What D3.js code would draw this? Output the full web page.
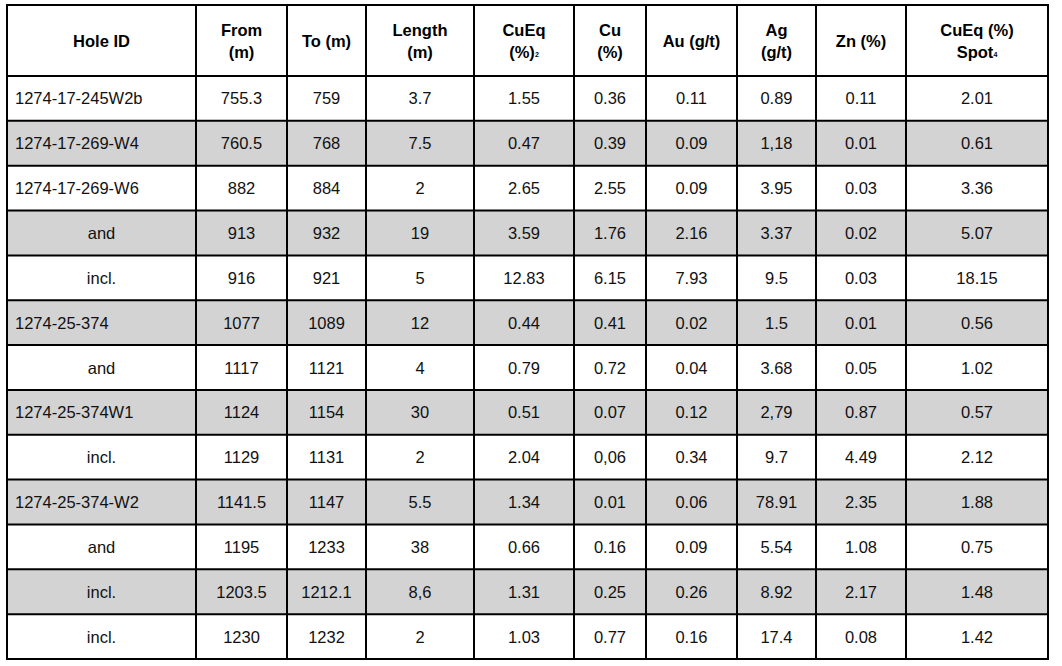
<!DOCTYPE html>
<html>
<head>
<meta charset="utf-8">
<script src="https://cdn.jsdelivr.net/npm/d3@7"></script>
<style>
body { margin: 0; background: #fff; }
text { font-family: "Liberation Sans", Arial, sans-serif; }
</style>
</head>
<body>
<svg id="chart" width="1062" height="666"></svg>
<script>
// column headers (line 1, line 2, superscript)
var headers = [
  ["Hole ID", "", ""], ["From", "(m)", ""], ["To (m)", "", ""], ["Length", "(m)", ""],
  ["CuEq", "(%)", "2"], ["Cu", "(%)", ""], ["Au (g/t)", "", ""], ["Ag", "(g/t)", ""],
  ["Zn (%)", "", ""], ["CuEq (%)", "Spot", "4"]
];
var holeIds = ["1274-17-245W2b", "1274-17-269-W4", "1274-17-269-W6", "and", "incl.", "1274-25-374",
  "and", "1274-25-374W1", "incl.", "1274-25-374-W2", "and", "incl.", "incl."];
var fromM  = ["755.3", "760.5", "882", "913", "916", "1077", "1117", "1124", "1129", "1141.5", "1195", "1203.5", "1230"];
var toM    = ["759", "768", "884", "932", "921", "1089", "1121", "1154", "1131", "1147", "1233", "1212.1", "1232"];
var lengthM = ["3.7", "7.5", "2", "19", "5", "12", "4", "30", "2", "5.5", "38", "8,6", "2"];
var cuEq   = ["1.55", "0.47", "2.65", "3.59", "12.83", "0.44", "0.79", "0.51", "2.04", "1.34", "0.66", "1.31", "1.03"];
var cu     = ["0.36", "0.39", "2.55", "1.76", "6.15", "0.41", "0.72", "0.07", "0,06", "0.01", "0.16", "0.25", "0.77"];
var au     = ["0.11", "0.09", "0.09", "2.16", "7.93", "0.02", "0.04", "0.12", "0.34", "0.06", "0.09", "0.26", "0.16"];
var ag     = ["0.89", "1,18", "3.95", "3.37", "9.5", "1.5", "3.68", "2,79", "9.7", "78.91", "5.54", "8.92", "17.4"];
var zn     = ["0.11", "0.01", "0.03", "0.02", "0.03", "0.01", "0.05", "0.87", "4.49", "2.35", "1.08", "2.17", "0.08"];
var cuEqSpot = ["2.01", "0.61", "3.36", "5.07", "18.15", "0.56", "1.02", "0.57", "2.12", "1.88", "0.75", "1.48", "1.42"];
var shaded = [false, true, false, true, false, true, false, true, false, true, false, true, false];

(function () {
var colEdges = [7, 196, 287, 366, 474, 574, 646, 737, 816, 906, 1048];
var tableTop = 5, headH = 71, tableBottom = 659;
var columns = [holeIds, fromM, toM, lengthM, cuEq, cu, au, ag, zn, cuEqSpot];
var rows = holeIds.map(function(d, i) { return columns.map(function(c) { return c[i]; }); });

var svg = d3.select("#chart");
var y = d3.scaleBand().domain(d3.range(rows.length)).range([tableTop + headH, tableBottom]);

// row backgrounds
svg.selectAll("rect.row").data(rows).enter().append("rect")
  .attr("x", colEdges[0]).attr("width", colEdges[10] - colEdges[0])
  .attr("y", function(d, i) { return y(i); }).attr("height", y.bandwidth())
  .attr("fill", function(d, i) { return shaded[i] ? "#d3d3d3" : "#fff"; });

// headers
headers.forEach(function(h, j) {
  var cx = (colEdges[j] + colEdges[j + 1]) / 2, cy = tableTop + headH / 2;
  var t = svg.append("text").attr("text-anchor", "middle").attr("font-weight", "bold")
    .attr("font-size", 16.5).attr("fill", "#000");
  if (!h[1]) {
    t.attr("x", cx).attr("y", cy + 6).text(h[0]);
  } else {
    t.append("tspan").attr("x", cx).attr("y", cy - 5).text(h[0]);
    t.append("tspan").attr("x", cx).attr("y", cy + 17).text(h[1]);
    if (h[2]) t.append("tspan").attr("font-size", 7).attr("dy", -1).text(h[2]);
  }
});

// cells
rows.forEach(function(r, i) {
  r.forEach(function(v, j) {
    var left = j === 0 && !(v === "and" || v === "incl.");
    svg.append("text")
      .attr("x", left ? colEdges[0] + 8 : (colEdges[j] + colEdges[j + 1]) / 2)
      .attr("y", y(i) + y.bandwidth() / 2 + 6)
      .attr("text-anchor", left ? "start" : "middle")
      .attr("font-size", 16.5).attr("fill", "#111").text(v);
  });
});

// grid lines
var hLines = [tableTop, tableTop + headH].concat(d3.range(1, rows.length).map(function(i) { return y(i); })).concat([tableBottom]);
svg.selectAll("line.h").data(hLines).enter().append("line")
  .attr("x1", colEdges[0] - 1).attr("x2", colEdges[10] + 1)
  .attr("y1", function(d) { return d; }).attr("y2", function(d) { return d; })
  .attr("stroke", "#000").attr("stroke-width", 2);
svg.selectAll("line.v").data(colEdges).enter().append("line")
  .attr("x1", function(d) { return d; }).attr("x2", function(d) { return d; })
  .attr("y1", tableTop).attr("y2", tableBottom)
  .attr("stroke", "#000").attr("stroke-width", 2);
})();
</script>
</body>
</html>
